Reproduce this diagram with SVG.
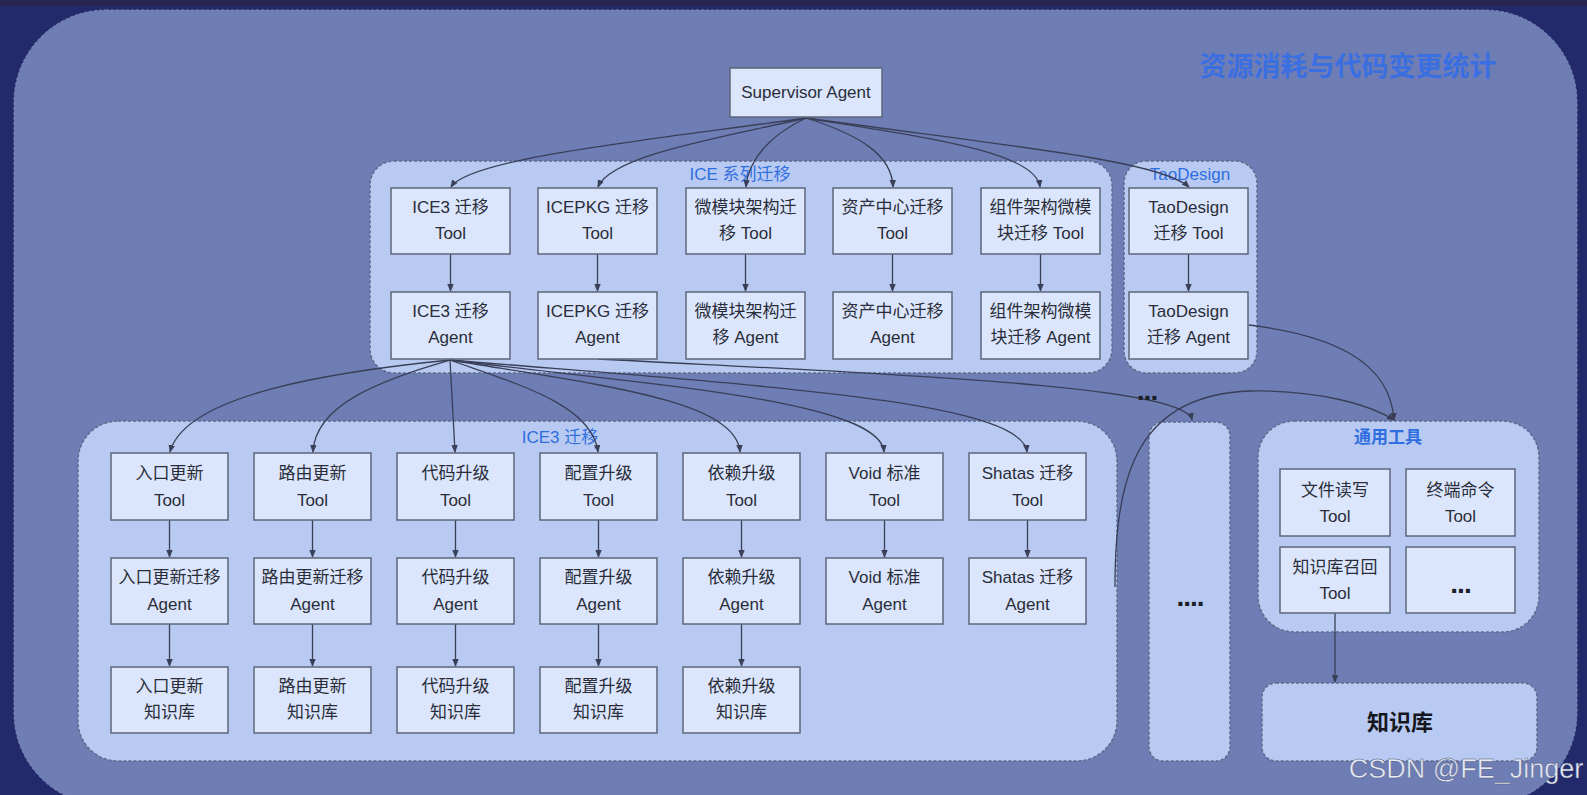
<svg xmlns="http://www.w3.org/2000/svg" width="1587" height="795" viewBox="0 0 1587 795">
<defs>
<marker id="ah" markerWidth="8" markerHeight="8" refX="7" refY="4" orient="auto" markerUnits="userSpaceOnUse">
<path d="M0,0.8 L8,4 L0,7.2 Z" fill="#3a3f58"/>
</marker>
<style>
.node{fill:#dbe6fd;stroke:#5e6579;stroke-width:1.5}
.zone{fill:#b8caf1;stroke:#5e6a8c;stroke-width:1.5;stroke-dasharray:3 2}
.t{font-family:"Liberation Sans","Noto Sans CJK SC",sans-serif;font-size:17px;fill:#2a2d38;text-anchor:middle}
.zl{font-family:"Liberation Sans","Noto Sans CJK SC",sans-serif;font-size:17px;fill:#2f6ee0;text-anchor:middle}
.dots{font-family:"Liberation Sans",sans-serif;font-weight:bold;font-size:28px;fill:#1c1e28;text-anchor:middle;letter-spacing:-1px}
.c{fill:none;stroke:#3a3f58;stroke-width:1.3;marker-end:url(#ah)}
</style>
</defs>
<rect x="0" y="0" width="1587" height="795" fill="#232a6b"/>
<rect x="0" y="0" width="1587" height="6" fill="#29254f"/>
<rect x="14" y="10" width="1563" height="795" rx="92" ry="92" fill="#6e7db4" stroke="#7d89b3" stroke-width="1" stroke-dasharray="3 2"/>
<text x="1348" y="76" font-family="'Noto Sans CJK SC',sans-serif" font-size="27" font-weight="bold" fill="#3a6fe2" text-anchor="middle">资源消耗与代码变更统计</text>

<g id="zones">
<rect id="zone-ice" class="zone" x="370" y="161" width="742" height="212" rx="24"/>
<text class="zl" x="740" y="180">ICE 系列迁移</text>
<rect id="zone-tao" class="zone" x="1124" y="161" width="133" height="212" rx="22"/>
<text class="zl" x="1190" y="180">TaoDesign</text>
<rect id="zone-ice3" class="zone" x="78" y="421" width="1039" height="340" rx="40"/>
<text class="zl" x="560" y="443">ICE3 迁移</text>
<rect id="zone-more" class="zone" x="1149" y="422" width="81" height="339" rx="14"/>
<text class="dots" x="1190" y="606">....</text>
<rect id="zone-common" class="zone" x="1258" y="421" width="281" height="211" rx="36"/>
<text class="zl" x="1388" y="443" font-weight="bold">通用工具</text>
<rect id="zone-kb" class="zone" x="1262" y="683" width="275" height="78" rx="14"/>
<text x="1400" y="730" font-family="'Noto Sans CJK SC',sans-serif" font-size="22" font-weight="bold" fill="#15171f" text-anchor="middle">知识库</text>
</g>

<g id="connectors">
<path class="c" d="M806,118 C650,140 470,158 451,187"/>
<path class="c" d="M806,118 C720,138 612,155 598,187"/>
<path class="c" d="M806,118 C770,135 748,160 746,187"/>
<path class="c" d="M806,118 C860,135 892,155 893,187"/>
<path class="c" d="M806,118 C930,138 1036,152 1040,187"/>
<path class="c" d="M806,118 C1000,145 1160,160 1189,187"/>
<path class="c" d="M450.5,254 L450.5,291"/>
<path class="c" d="M597.5,254 L597.5,291"/>
<path class="c" d="M745.5,254 L745.5,291"/>
<path class="c" d="M892.5,254 L892.5,291"/>
<path class="c" d="M1040.5,254 L1040.5,291"/>
<path class="c" d="M1188.5,254 L1188.5,291"/>
<path class="c" d="M450,360 C330,372 185,395 170,452"/>
<path class="c" d="M450,360 C380,380 315,405 313,452"/>
<path class="c" d="M450,360 L455,452"/>
<path class="c" d="M450,360 C520,385 592,405 598,452"/>
<path class="c" d="M450,360 C600,385 736,400 740,452"/>
<path class="c" d="M450,360 C650,385 880,400 884,452"/>
<path class="c" d="M450,360 C750,385 1022,400 1027,452"/>
<path class="c" d="M598,359 C900,375 1185,385 1192,420"/>
<path class="c" d="M1249,325 C1330,335 1390,360 1394,420"/>
<path class="c" d="M1115,587 C1115,470 1140,395 1250,391 C1320,390 1370,405 1394,420"/>
<path class="c" d="M169.5,520 L169.5,557"/>
<path class="c" d="M312.5,520 L312.5,557"/>
<path class="c" d="M455.5,520 L455.5,557"/>
<path class="c" d="M598.5,520 L598.5,557"/>
<path class="c" d="M741.5,520 L741.5,557"/>
<path class="c" d="M884.5,520 L884.5,557"/>
<path class="c" d="M1027.5,520 L1027.5,557"/>
<path class="c" d="M169.5,624 L169.5,666"/>
<path class="c" d="M312.5,624 L312.5,666"/>
<path class="c" d="M455.5,624 L455.5,666"/>
<path class="c" d="M598.5,624 L598.5,666"/>
<path class="c" d="M741.5,624 L741.5,666"/>
<path class="c" d="M1335,613 L1335,682"/>
</g>
<text class="dots" x="1147" y="400">...</text>

<g id="supervisor"><rect class="node" x="730" y="68" width="152" height="49"/><text class="t" x="806" y="98">Supervisor Agent</text></g>

<g id="ice3-tool"><rect class="node" x="391" y="188" width="119" height="66"/><text class="t" x="450.5" y="213">ICE3 迁移</text><text class="t" x="450.5" y="239">Tool</text></g>
<g id="icepkg-tool"><rect class="node" x="538" y="188" width="119" height="66"/><text class="t" x="597.5" y="213">ICEPKG 迁移</text><text class="t" x="597.5" y="239">Tool</text></g>
<g id="micro-tool"><rect class="node" x="686" y="188" width="119" height="66"/><text class="t" x="745.5" y="213">微模块架构迁</text><text class="t" x="745.5" y="239">移 Tool</text></g>
<g id="asset-tool"><rect class="node" x="833" y="188" width="119" height="66"/><text class="t" x="892.5" y="213">资产中心迁移</text><text class="t" x="892.5" y="239">Tool</text></g>
<g id="comp-tool"><rect class="node" x="981" y="188" width="119" height="66"/><text class="t" x="1040.5" y="213">组件架构微模</text><text class="t" x="1040.5" y="239">块迁移 Tool</text></g>
<g id="tao-tool"><rect class="node" x="1129" y="188" width="119" height="66"/><text class="t" x="1188.5" y="213">TaoDesign</text><text class="t" x="1188.5" y="239">迁移 Tool</text></g>

<g id="ice3-agent"><rect class="node" x="391" y="292" width="119" height="67"/><text class="t" x="450.5" y="317">ICE3 迁移</text><text class="t" x="450.5" y="343">Agent</text></g>
<g id="icepkg-agent"><rect class="node" x="538" y="292" width="119" height="67"/><text class="t" x="597.5" y="317">ICEPKG 迁移</text><text class="t" x="597.5" y="343">Agent</text></g>
<g id="micro-agent"><rect class="node" x="686" y="292" width="119" height="67"/><text class="t" x="745.5" y="317">微模块架构迁</text><text class="t" x="745.5" y="343">移 Agent</text></g>
<g id="asset-agent"><rect class="node" x="833" y="292" width="119" height="67"/><text class="t" x="892.5" y="317">资产中心迁移</text><text class="t" x="892.5" y="343">Agent</text></g>
<g id="comp-agent"><rect class="node" x="981" y="292" width="119" height="67"/><text class="t" x="1040.5" y="317">组件架构微模</text><text class="t" x="1040.5" y="343">块迁移 Agent</text></g>
<g id="tao-agent"><rect class="node" x="1129" y="292" width="119" height="67"/><text class="t" x="1188.5" y="317">TaoDesign</text><text class="t" x="1188.5" y="343">迁移 Agent</text></g>

<g id="entry-tool"><rect class="node" x="111" y="453" width="117" height="67"/><text class="t" x="169.5" y="479">入口更新</text><text class="t" x="169.5" y="506">Tool</text></g>
<g id="route-tool"><rect class="node" x="254" y="453" width="117" height="67"/><text class="t" x="312.5" y="479">路由更新</text><text class="t" x="312.5" y="506">Tool</text></g>
<g id="code-tool"><rect class="node" x="397" y="453" width="117" height="67"/><text class="t" x="455.5" y="479">代码升级</text><text class="t" x="455.5" y="506">Tool</text></g>
<g id="config-tool"><rect class="node" x="540" y="453" width="117" height="67"/><text class="t" x="598.5" y="479">配置升级</text><text class="t" x="598.5" y="506">Tool</text></g>
<g id="dep-tool"><rect class="node" x="683" y="453" width="117" height="67"/><text class="t" x="741.5" y="479">依赖升级</text><text class="t" x="741.5" y="506">Tool</text></g>
<g id="void-tool"><rect class="node" x="826" y="453" width="117" height="67"/><text class="t" x="884.5" y="479">Void 标准</text><text class="t" x="884.5" y="506">Tool</text></g>
<g id="shatas-tool"><rect class="node" x="969" y="453" width="117" height="67"/><text class="t" x="1027.5" y="479">Shatas 迁移</text><text class="t" x="1027.5" y="506">Tool</text></g>

<g id="entry-agent"><rect class="node" x="111" y="558" width="117" height="66"/><text class="t" x="169.5" y="583">入口更新迁移</text><text class="t" x="169.5" y="610">Agent</text></g>
<g id="route-agent"><rect class="node" x="254" y="558" width="117" height="66"/><text class="t" x="312.5" y="583">路由更新迁移</text><text class="t" x="312.5" y="610">Agent</text></g>
<g id="code-agent"><rect class="node" x="397" y="558" width="117" height="66"/><text class="t" x="455.5" y="583">代码升级</text><text class="t" x="455.5" y="610">Agent</text></g>
<g id="config-agent"><rect class="node" x="540" y="558" width="117" height="66"/><text class="t" x="598.5" y="583">配置升级</text><text class="t" x="598.5" y="610">Agent</text></g>
<g id="dep-agent"><rect class="node" x="683" y="558" width="117" height="66"/><text class="t" x="741.5" y="583">依赖升级</text><text class="t" x="741.5" y="610">Agent</text></g>
<g id="void-agent"><rect class="node" x="826" y="558" width="117" height="66"/><text class="t" x="884.5" y="583">Void 标准</text><text class="t" x="884.5" y="610">Agent</text></g>
<g id="shatas-agent"><rect class="node" x="969" y="558" width="117" height="66"/><text class="t" x="1027.5" y="583">Shatas 迁移</text><text class="t" x="1027.5" y="610">Agent</text></g>

<g id="entry-kb"><rect class="node" x="111" y="667" width="117" height="66"/><text class="t" x="169.5" y="692">入口更新</text><text class="t" x="169.5" y="718">知识库</text></g>
<g id="route-kb"><rect class="node" x="254" y="667" width="117" height="66"/><text class="t" x="312.5" y="692">路由更新</text><text class="t" x="312.5" y="718">知识库</text></g>
<g id="code-kb"><rect class="node" x="397" y="667" width="117" height="66"/><text class="t" x="455.5" y="692">代码升级</text><text class="t" x="455.5" y="718">知识库</text></g>
<g id="config-kb"><rect class="node" x="540" y="667" width="117" height="66"/><text class="t" x="598.5" y="692">配置升级</text><text class="t" x="598.5" y="718">知识库</text></g>
<g id="dep-kb"><rect class="node" x="683" y="667" width="117" height="66"/><text class="t" x="741.5" y="692">依赖升级</text><text class="t" x="741.5" y="718">知识库</text></g>

<g id="file-tool"><rect class="node" x="1280" y="469" width="110" height="67"/><text class="t" x="1335" y="496">文件读写</text><text class="t" x="1335" y="522">Tool</text></g>
<g id="term-tool"><rect class="node" x="1406" y="469" width="109" height="67"/><text class="t" x="1460.5" y="496">终端命令</text><text class="t" x="1460.5" y="522">Tool</text></g>
<g id="kb-tool"><rect class="node" x="1280" y="547" width="110" height="66"/><text class="t" x="1335" y="573">知识库召回</text><text class="t" x="1335" y="599">Tool</text></g>
<g id="more-tool"><rect class="node" x="1406" y="547" width="109" height="66"/><text class="dots" x="1460.5" y="593">...</text></g>

<text x="1466" y="778" font-family="'Liberation Sans',sans-serif" font-size="27" fill="#e6eaf5" stroke="#4a5378" stroke-width="0.4" text-anchor="middle">CSDN @FE_Jinger</text>
</svg>
